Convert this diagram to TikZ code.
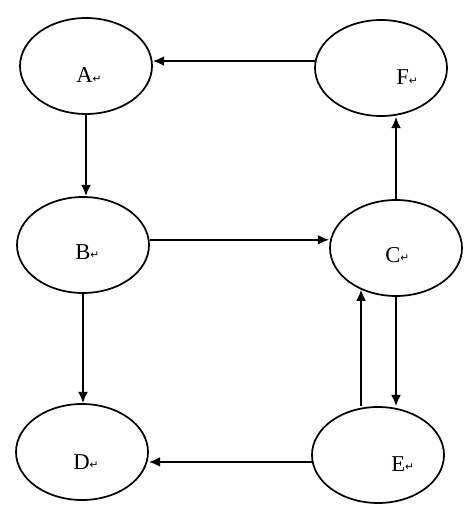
\documentclass[tikz,border=0pt]{standalone}
\usepackage{fontspec}
\setmainfont{Liberation Serif}
\newfontfamily\markfont{DejaVu Sans}
\usetikzlibrary{shapes.geometric,arrows.meta}
\newcommand{\retmark}{{\markfont\fontsize{8}{9}\selectfont\raisebox{0.1ex}{↵}}}
\begin{document}
\begin{tikzpicture}[x=0.75pt,y=-0.75pt,
  state/.style={ellipse,draw,line width=1.3pt,minimum width=99pt,minimum height=72pt,inner sep=0pt},
  lab/.style={anchor=base west,inner sep=0pt,font=\fontsize{17}{19}\selectfont},
  arr/.style={line width=1.4pt,-{Latex[length=8.5pt,width=7.5pt]}}]
\useasboundingbox (0,0) rectangle (474,513);
\node[state] (A) at (86,66) {};
\node[state] (F) at (381,68) {};
\node[state] (B) at (83,245) {};
\node[state] (C) at (396,248) {};
\node[state] (D) at (82,452) {};
\node[state] (E) at (378,455) {};
\node[lab] (lA) at (76,83) {A\retmark};
\node[lab] (lF) at (396,85) {F\retmark};
\node[lab] (lB) at (75,259) {B\retmark};
\node[lab] (lC) at (385,262) {C\retmark};
\node[lab] (lD) at (73,469) {D\retmark};
\node[lab] (lE) at (391,471) {E\retmark};
\draw[arr] (F.174) -- (F.174 -| A.east);
\draw[arr] (A.south) -- (A.south |- B.north);
\draw[arr] ([yshift=0.4pt]B.4) -- ([yshift=0.4pt]B.4 -| C.west);
\draw[arr] (C.north) -- (C.north |- F.south);
\draw[arr] (B.south) -- (B.south |- D.north);
\draw[arr] (C.230 |- E.north) -- (C.230);
\draw[arr] (C.south) -- (C.south |- E.north);
\draw[arr] (E.186) -- (E.186 -| D.east);
\end{tikzpicture}
\end{document}
